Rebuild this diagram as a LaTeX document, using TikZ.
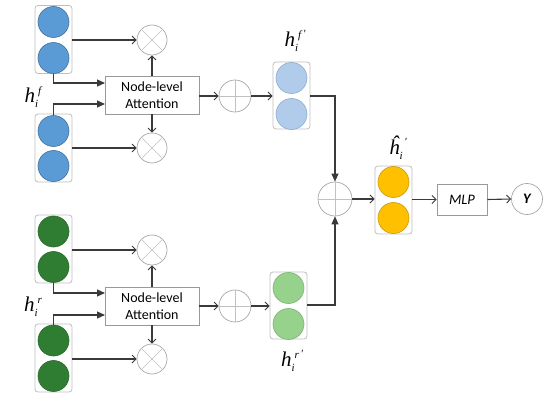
\documentclass[tikz,border=0pt]{standalone}
\usepackage{fontspec}
\setmainfont{Carlito}
\newfontfamily\serifl{Liberation Serif}
\usetikzlibrary{arrows.meta}
\definecolor{blueC}{HTML}{5B9BD5}
\definecolor{blueD}{HTML}{41719C}
\definecolor{lblueC}{HTML}{B0CCEA}
\definecolor{lblueD}{HTML}{8FAACC}
\definecolor{greenC}{HTML}{2F7D32}
\definecolor{greenD}{HTML}{2A6A2C}
\definecolor{lgreenC}{HTML}{96D28C}
\definecolor{lgreenD}{HTML}{7DB275}
\definecolor{orangeC}{HTML}{FFC000}
\definecolor{orangeD}{HTML}{C99A10}
\definecolor{lineC}{HTML}{3A3A3A}
\definecolor{opC}{HTML}{A6A6A6}
\newcommand\smallsc[1]{{\fontsize{11}{11}\selectfont #1}}
\newcommand\hlab[3]{{\serifl\itshape\fontsize{21}{21}\selectfont #1\rlap{\raisebox{-5pt}{\smallsc{i}}}\hspace{3pt}\raisebox{8pt}{\smallsc{#2}}\raisebox{9pt}{\smallsc{#3}}}}
\begin{document}
\begin{tikzpicture}[x=1pt,y=-1pt,
  grp/.style={draw=black!25,line width=0.8pt,rounded corners=3pt,minimum width=37pt,minimum height=68pt,inner sep=0pt,fill=white},
  ball/.style={circle,minimum size=31pt,inner sep=0pt,line width=0.6pt},
  opcirc/.style={circle,draw=opC,line width=0.7pt,minimum size=30pt,inner sep=0pt},
  attbox/.style={draw=black!40,line width=0.8pt,minimum width=94pt,minimum height=38pt,inner sep=0pt,align=center,font=\fontsize{14}{16.5}\selectfont},
  conn/.style={draw=lineC,line width=1.1pt},
  openarr/.style={conn,-{Straight Barb[length=4pt,width=8pt,line width=0.9pt]}},
  fillarr/.style={conn,-{Triangle[length=8pt,width=7pt]}}
]
\useasboundingbox (0,0) rectangle (550,404);
% groups
\node[grp] (g1) at (53.5,39.5) {};
\node[ball,fill=blueC,draw=blueD] (g1a) at (53.5,22) {};
\node[ball,fill=blueC,draw=blueD] (g1b) at (53.5,58) {};
\node[grp] (g2) at (53.5,148) {};
\node[ball,fill=blueC,draw=blueD] (g2a) at (53.5,131) {};
\node[ball,fill=blueC,draw=blueD] (g2b) at (53.5,166) {};
\node[grp] (g3) at (53.5,249) {};
\node[ball,fill=greenC,draw=greenD] (g3a) at (53.5,231.5) {};
\node[ball,fill=greenC,draw=greenD] (g3b) at (53.5,267) {};
\node[grp] (g4) at (53.5,358) {};
\node[ball,fill=greenC,draw=greenD] (g4a) at (53.5,340.5) {};
\node[ball,fill=greenC,draw=greenD] (g4b) at (53.5,376) {};
% multiply circles
\foreach \n/\y in {m1/40,m2/148,m3/250,m4/359}{
  \node[opcirc] (\n) at (152,\y) {};
  \draw[opC!70,line width=0.6pt] (\n.north west) -- (\n.south east) (\n.north east) -- (\n.south west);
}
% attention
\node[attbox] (a1) at (152,95) {Node-level\\Attention};
\node[attbox] (a2) at (152,306) {Node-level\\Attention};
\coordinate (a1i1) at (105,83);
\coordinate (a1i2) at (105,104);
\coordinate (a2i1) at (105,293);
\coordinate (a2i2) at (105,315);
% plus circles
\node[opcirc,minimum size=32pt] (p1) at (235,96) {};
\node[opcirc,minimum size=32pt] (p2) at (235,306) {};
\node[opcirc,minimum size=34pt] (pb) at (335,199) {};
\foreach \n in {p1,p2,pb}{
  \draw[opC!70,line width=0.6pt] (\n.north) -- (\n.south) (\n.west) -- (\n.east);
}
% light groups
\node[grp,minimum height=67pt] (lb) at (291.5,95.5) {};
\node[ball,fill=lblueC,draw=lblueD] (lba) at (291.5,78) {};
\node[ball,fill=lblueC,draw=lblueD] (lbb) at (291.5,114) {};
\node[grp,minimum height=67pt] (lg) at (288.5,305.5) {};
\node[ball,fill=lgreenC,draw=lgreenD] (lga) at (288.5,288) {};
\node[ball,fill=lgreenC,draw=lgreenD] (lgb) at (288.5,324) {};
\node[grp] (og) at (393.5,200) {};
\node[ball,fill=orangeC,draw=orangeD] (oga) at (393.5,182) {};
\node[ball,fill=orangeC,draw=orangeD] (ogb) at (393.5,218) {};
% MLP and Y
\node[draw=black!40,line width=0.8pt,minimum width=50pt,minimum height=31pt,inner sep=0pt,font=\fontsize{14.5}{14.5}\selectfont\itshape] (mlp) at (462,199.5) {MLP};
\node[opcirc,minimum size=31pt,font=\fontsize{14.5}{14.5}\selectfont\bfseries\itshape] (yy) at (527,199) {Y};
\coordinate (lbc) at (335,96);
\coordinate (lgc) at (335,305);
% connectors
\draw[openarr] (g1.east |- m1) -- (m1.west);
\draw[openarr] (g2.east |- m2) -- (m2.west);
\draw[openarr] (g3.east |- m3) -- (m3.west);
\draw[openarr] (g4.east |- m4) -- (m4.west);
\draw[fillarr] (g1b.south) |- (a1i1);
\draw[fillarr] (g2a.north) |- (a1i2);
\draw[fillarr] (g3b.south) |- (a2i1);
\draw[fillarr] (g4a.north) |- (a2i2);
\draw[openarr] (a1.north) -- (m1.south);
\draw[openarr] (a1.south) -- (m2.north);
\draw[openarr] (a2.north) -- (m3.south);
\draw[openarr] (a2.south) -- (m4.north);
\draw[openarr] (a1.east |- p1) -- (p1.west);
\draw[openarr] (a2.east |- p2) -- (p2.west);
\draw[openarr] (p1.east) -- (lb.west |- p1);
\draw[openarr] (p2.east) -- (lg.west |- p2);
\draw[fillarr] (lb.east |- lbc) -- (lbc) -- (pb.north);
\draw[fillarr] (lg.east |- lgc) -- (lgc) -- (pb.south);
\draw[openarr] (pb.east) -- (og.west |- pb);
\draw[openarr] (og.east |- mlp) -- (mlp.west);
\draw[openarr] (mlp.east) -- (yy.west);
% labels
\node (lf) at (33,97) {\hlab{h}{f}{}};
\node (lr) at (33,307) {\hlab{h}{r}{}};
\node (lfp) at (295,41) {\hlab{h}{f}{\,'}};
\node (lrp) at (292,361) {\hlab{h}{r}{\,'}};
\node (lh) at (398,148) {\hlab{\^{h}}{}{\,'}};
\end{tikzpicture}
\end{document}
